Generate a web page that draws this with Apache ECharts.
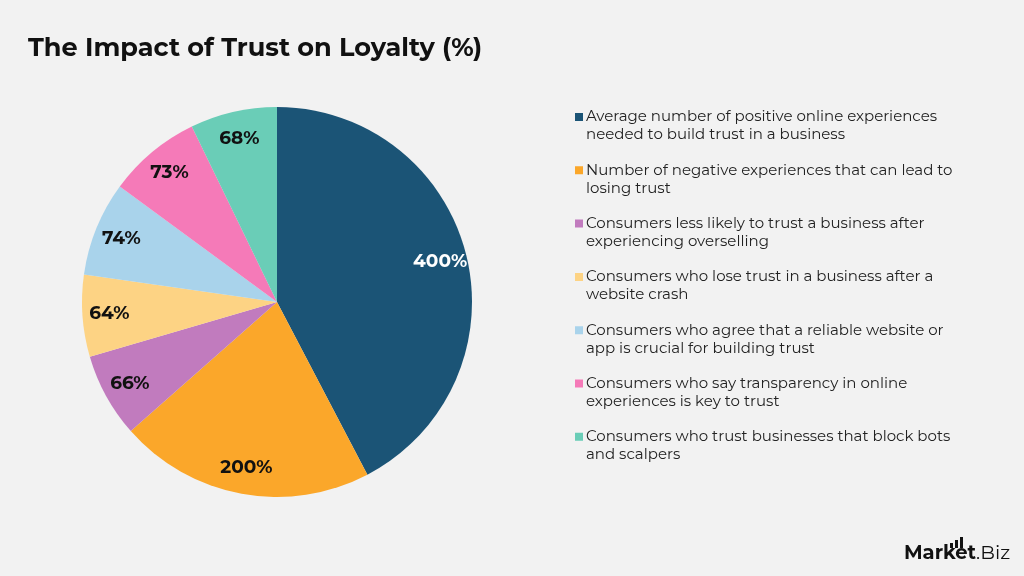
<!DOCTYPE html>
<html>
<head>
<meta charset="utf-8">
<script src="https://cdn.jsdelivr.net/npm/echarts@6/dist/echarts.min.js"></script>
<style>
  html, body { margin: 0; padding: 0; background: #f2f2f2; }
  #chart { width: 1024px; height: 576px; }
</style>
</head>
<body>
<div id="chart"></div>
<script>
// 数据
var categories = [
    "Average number of positive online experiences\nneeded to build trust in a business",
    "Number of negative experiences that can lead to\nlosing trust",
    "Consumers less likely to trust a business after\nexperiencing overselling",
    "Consumers who lose trust in a business after a\nwebsite crash",
    "Consumers who agree that a reliable website or\napp is crucial for building trust",
    "Consumers who say transparency in online\nexperiences is key to trust",
    "Consumers who trust businesses that block bots\nand scalpers"
];
var values = [400, 200, 66, 64, 74, 73, 68];
var colors = ["#1b5476", "#fba72a", "#c17bbe", "#fdd384", "#a9d3eb", "#f57ab8", "#6acdb7"];
var labelColors = ["#ffffff", "#111111", "#111111", "#111111", "#111111", "#111111", "#111111"];

var font = "Montserrat, Lato, 'Open Sans', sans-serif";

// 图例方块: 放在第一行文字旁边 (上下两个极小的点撑开高度)
var legendIcon = "path://M0,0L0.01,0L0,0.01Z M0,5L8,5L8,13L0,13Z M0,36L0.01,36L0,35.99Z";

var chart = echarts.init(document.getElementById("chart"));

var pieData = categories.map(function (name, i) {
    return { name: name, value: values[i], itemStyle: { color: colors[i] } };
});
var labelData = categories.map(function (name, i) {
    return { name: name, value: values[i], label: { color: labelColors[i] } };
});

var option = {
    backgroundColor: "#f2f2f2",
    animation: false,
    title: {
        text: "The Impact of Trust on Loyalty (%)",
        left: 23,
        top: 30,
        textStyle: { fontFamily: font, fontSize: 25.6, fontWeight: "bold", color: "#111111" }
    },
    legend: {
        orient: "vertical",
        left: 575,
        top: 108,
        padding: 0,
        itemWidth: 8,
        itemHeight: 36,
        itemGap: 17.3,
        icon: legendIcon,
        selectedMode: false,
        data: categories,
        textStyle: {
            fontFamily: font,
            fontSize: 15,
            lineHeight: 18,
            color: "#222222",
            padding: [0, 0, 0, -2]
        },
        itemStyle: { borderWidth: 0 }
    },
    series: [
        {
            type: "pie",
            center: [277, 302],
            radius: [0, 195],
            startAngle: 90,
            clockwise: true,
            silent: true,
            label: { show: false },
            labelLine: { show: false },
            itemStyle: { borderWidth: 0 },
            data: pieData
        },
        {
            // 标签层
            type: "pie",
            center: [277, 302],
            radius: [135, 195],
            startAngle: 90,
            clockwise: true,
            silent: true,
            legendHoverLink: false,
            itemStyle: { color: "rgba(0,0,0,0)", borderWidth: 0 },
            label: {
                show: true,
                position: "inside",
                formatter: "{c}%",
                fontFamily: font,
                fontSize: 18.5,
                fontWeight: "bold"
            },
            labelLine: { show: false },
            data: labelData
        }
    ],
    graphic: [
        {
            type: "text",
            left: 904,
            top: 543,
            style: {
                text: "{a|Market}{b|.Biz}",
                rich: {
                    a: { fontFamily: font, fontSize: 19.5, fontWeight: "bold", fill: "#111111" },
                    b: { fontFamily: font, fontSize: 19.5, fill: "#111111" }
                }
            }
        },
        { type: "rect", shape: { x: 950, y: 543, width: 3, height: 5 }, style: { fill: "#111111" } },
        { type: "rect", shape: { x: 955, y: 540, width: 3, height: 8 }, style: { fill: "#111111" } },
        { type: "rect", shape: { x: 960, y: 537, width: 3, height: 11 }, style: { fill: "#111111" } }
    ]
};

chart.setOption(option);
</script>
</body>
</html>
